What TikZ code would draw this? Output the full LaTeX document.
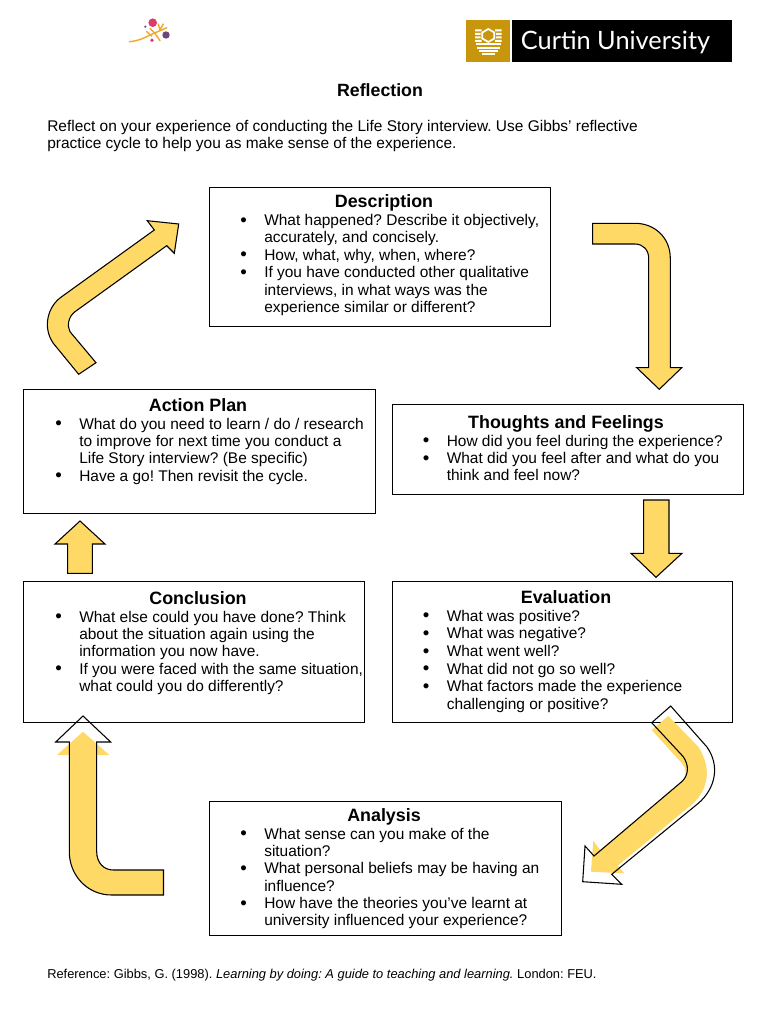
\documentclass[tikz,border=0pt]{standalone}
\usepackage{fontspec}
\setmainfont{Liberation Sans}
\newfontfamily\curtinfont{Lato}
\definecolor{arrowy}{HTML}{FFD966}
\definecolor{curtgold}{HTML}{C8960C}
\definecolor{twigor}{HTML}{F5A623}
\definecolor{berry}{HTML}{DE3A72}
\definecolor{plum}{HTML}{6E4778}
\newcommand{\bodyfont}{\fontsize{11.6}{13}\selectfont\frenchspacing}
\newcommand{\itm}{\raisebox{-0.5pt}{\fontsize{14}{13}\selectfont\textbullet}}
\tikzset{
  x=0.75pt,y=-0.75pt,
  panel/.style={draw=black,line width=0.75pt,fill=white,inner sep=0pt,outer sep=0pt,rectangle,anchor=north west},
  headlab/.style={font=\fontsize{13.4}{15}\selectfont\bfseries,anchor=base,inner sep=0pt},
  bodylab/.style={font=\bodyfont,anchor=base west,inner sep=0pt},
  yarrow/.style={fill=arrowy,draw=black,line width=0.8pt,line join=miter},
  yfill/.style={fill=arrowy,draw=none},
  ywire/.style={draw=black,line width=0.8pt,fill=none},
  stripe/.style={fill=white,draw=none},
  twig/.style={twigor,line width=1.05pt,line cap=round},
}
\newenvironment{itemrows}{\begin{tabular}[t]{@{}p{18pt}@{}l@{}}}{\end{tabular}}
\begin{document}
\begin{tikzpicture}
\useasboundingbox (0,0) rectangle (768,1024);
\fill[white] (0,0) rectangle (768,1024);
% twig logo
\draw[twig] (129.3,41.7) .. controls (137,41) and (142,39) .. (146.7,36.7) .. controls (152,34) and (157,32) .. (161.7,30) -- (166.7,27.7);
\draw[twig] (146.7,31.7) -- (151.7,36) (150,28.3) -- (156,34.3) (158.3,24) -- (160,30) (163.3,24) -- (160,30) (155,33.3) -- (160,40.7);
\fill[berry] (152.7,22.7) circle (4.3);
\fill[plum] (166,35) circle (3.7);
\fill[berry] (152,40.3) circle (1.9);
\fill[plum] (145.3,26.7) circle (1.2);
% curtin logo
\fill[curtgold] (465.7,20) rectangle (510,62.3);
\fill[black] (511.7,20) rectangle (732.3,62.3);
\fill[stripe] (475,29.5) rectangle (481.5,31.5) (495,29.5) rectangle (501.7,31.5);
\fill[stripe] (475,33) rectangle (480.5,35) (496,33) rectangle (501.7,35);
\fill[stripe] (475,36.5) rectangle (480.5,38.5) (496,36.5) rectangle (501.7,38.5);
\fill[stripe] (475,40) rectangle (481.5,42) (495,40) rectangle (501.7,42);
\fill[stripe] (475.5,43.5) rectangle (501.2,45.3);
\fill[stripe] (476.5,47) rectangle (500,48.8);
\fill[stripe] (479,50.3) rectangle (497.7,52);
\fill[stripe] (482,53.5) rectangle (494.5,55.2);
\draw[white,line width=1.3pt] (488.3,29) -- (494.3,32.5) -- (494.3,38.5) -- (488.3,42) -- (482.3,38.5) -- (482.3,32.5) -- cycle;
\node[font=\curtinfont\fontsize{19}{22}\selectfont,text=white,inner sep=0pt,anchor=base] (curtin) at (615.5,49.5) {Curtin University};
% title
\node[font=\fontsize{13.3}{15}\selectfont\bfseries,inner sep=0pt,anchor=base] (title) at (380,96) {Reflection};
\node[font=\bodyfont,anchor=base west,inner sep=0pt,align=left] (intro) at (47,148.5) {Reflect on your experience of conducting the Life Story interview. Use Gibbs’ reflective\\practice cycle to help you as make sense of the experience.};
% panels
\node[panel,minimum width=340.5*0.75pt,minimum height=139*0.75pt] (desc) at (209.5,187) {};
\node[panel,minimum width=351.5*0.75pt,minimum height=124*0.75pt] (plan) at (23.5,389.5) {};
\node[panel,minimum width=351*0.75pt,minimum height=90*0.75pt] (tf) at (392,404.5) {};
\node[panel,minimum width=340.5*0.75pt,minimum height=141*0.75pt] (concl) at (23.5,581.5) {};
\node[panel,minimum width=340*0.75pt,minimum height=141*0.75pt] (eval) at (392,581.5) {};
\node[panel,minimum width=351.5*0.75pt,minimum height=134*0.75pt] (ana) at (209.5,801.5) {};
% heads
\node[headlab] (h1) at (384,207) {Description};
\node[headlab] (h2) at (198,411) {Action Plan};
\node[headlab] (h3) at (566,428) {Thoughts and Feelings};
\node[headlab] (h4) at (198,604) {Conclusion};
\node[headlab] (h5) at (566,603) {Evaluation};
\node[headlab] (h6) at (384,821) {Analysis};
% bodies
\node[bodylab] (b1) at (240,225.5) {\begin{itemrows}
\itm & What happened? Describe it objectively,\\
 & accurately, and concisely.\\
\itm & How, what, why, when, where?\\
\itm & If you have conducted other qualitative\\[0.6pt]
 & interviews, in what ways was the\\
 & experience similar or different?
\end{itemrows}};
\node[bodylab] (b2) at (55,429) {\begin{itemrows}
\itm & What do you need to learn / do / research\\
 & to improve for next time you conduct a\\
 & Life Story interview? (Be specific)\\
\itm & Have a go! Then revisit the cycle.
\end{itemrows}};
\node[bodylab] (b3) at (422.5,446) {\begin{itemrows}
\itm & How did you feel during the experience?\\
\itm & What did you feel after and what do you\\
 & think and feel now?
\end{itemrows}};
\node[bodylab] (b4) at (55,622) {\begin{itemrows}
\itm & What else could you have done? Think\\
 & about the situation again using the\\
 & information you now have.\\
\itm & If you were faced with the same situation,\\
 & what could you do differently?
\end{itemrows}};
\node[bodylab] (b5) at (422.5,621) {\begin{itemrows}
\itm & What was positive?\\[0.3pt]
\itm & What was negative?\\[0.3pt]
\itm & What went well?\\[0.3pt]
\itm & What did not go so well?\\[0.3pt]
\itm & What factors made the experience\\[0.3pt]
 & challenging or positive?
\end{itemrows}};
\node[bodylab] (b6) at (240,839) {\begin{itemrows}
\itm & What sense can you make of the\\
 & situation?\\
\itm & What personal beliefs may be having an\\
 & influence?\\
\itm & How have the theories you’ve learnt at\\
 & university influenced your experience?
\end{itemrows}};
\node[font=\fontsize{9.65}{11}\selectfont\frenchspacing,anchor=base west,inner sep=0pt] (ref) at (47,978) {Reference: Gibbs, G. (1998). \textit{Learning by doing: A guide to teaching and learning.} London: FEU.};
% arrows
\draw[yarrow] (78.7,374.3) -- (96,362.7) -- (70,331.7) .. controls (67,326) and (68,317) .. (75,311.7) -- (166.7,245.7) -- (174.3,253.3) -- (178.7,224) -- (147.3,220.7) -- (154.3,230) -- (61.7,296.7) .. controls (48,306) and (42,327) .. (53.3,343.3) -- cycle;
\draw[yarrow] (592.7,223.3) -- (635,223.3) .. controls (655,223.3) and (670.3,238) .. (670.3,258.3) -- (670.3,367.7) -- (681.7,367.7) -- (659.3,389.3) -- (636.7,367.7) -- (648.7,367.7) -- (648.7,258.3) .. controls (648.7,250) and (643,244) .. (635,244) -- (592.7,244) -- cycle;
\draw[yarrow] (643.7,500) -- (669,500) -- (669,553.3) -- (682,553.3) -- (656,577.3) -- (631,553.3) -- (643.7,553.3) -- cycle;
\draw[yarrow] (80,521) -- (105,544) -- (92.3,544) -- (92.3,573.3) -- (67.7,573.3) -- (67.7,544) -- (55,544) -- cycle;
% bottom-right arrow
\fill[yfill] (668.3,716) -- (651.7,730) -- (681.7,763) .. controls (686,768) and (688,775) .. (681.7,781.7) -- (600,850) -- (593.3,840.7) -- (591,871.7) -- (624.3,873.3) -- (617.7,865.7) -- (693.3,803.3) .. controls (707,790) and (713,770) .. (698.3,746.7) -- cycle;
\draw[ywire] (670.7,706) -- (651.7,722.7) -- (683.3,756.7) .. controls (689,765) and (689,775) .. (681.7,781.7) -- (594,856) -- (585,846) -- (582.7,881.7) -- (621.7,884.3) -- (611.7,874.3) -- (698.3,803.3) .. controls (716,788) and (720,765) .. (706.7,746.7) -- cycle;
% bottom-left arrow
\fill[yfill] (83,731.7) -- (109.3,755) -- (57,755) -- cycle;
\fill[yfill] (69.3,745) -- (96.7,745) -- (96.7,851.7) .. controls (96.7,863) and (104,870) .. (113.3,870) -- (163.5,870) -- (163.5,895) -- (111.7,895) .. controls (87,895) and (69.3,875) .. (69.3,851.7) -- cycle;
\draw[ywire] (163.5,870) -- (113.3,870) .. controls (104,870) and (96.7,863) .. (96.7,851.7) -- (96.7,742) -- (110.7,742) -- (83,716) -- (55.7,742) -- (69.3,742) -- (69.3,851.7) .. controls (69.3,875) and (87,895) .. (111.7,895) -- (163.5,895) -- cycle;
\end{tikzpicture}
\end{document}
